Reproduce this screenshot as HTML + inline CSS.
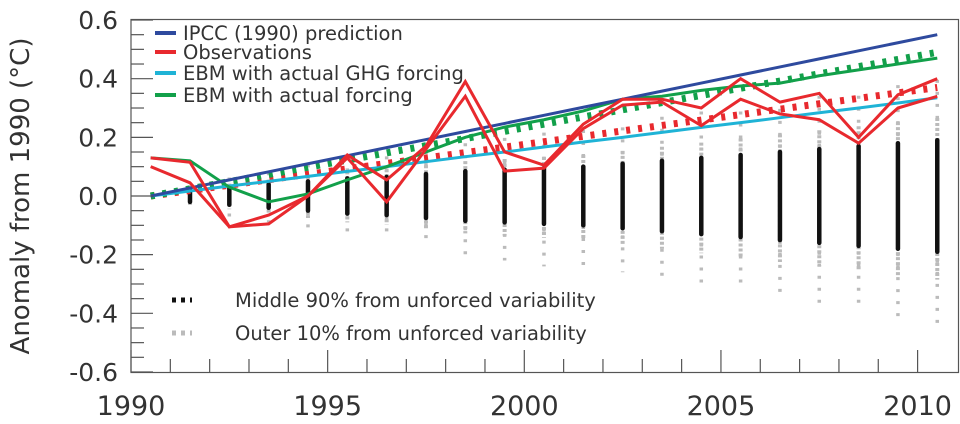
<!DOCTYPE html>
<html><head><meta charset="utf-8"><style>
body{margin:0;background:#fff;}
svg{display:block;font-family:"DejaVu Sans","Liberation Sans",sans-serif;}
</style></head><body>
<svg id="chart" width="960" height="424" viewBox="0 0 960 424" xmlns="http://www.w3.org/2000/svg">
<g id="marks"></g>
<rect x="131" y="19.5" width="827.5" height="353" fill="none" stroke="#555" stroke-width="1.2"/>
<g id="axes"></g>
<text transform="translate(29,196) rotate(-90)" text-anchor="middle" font-size="26" fill="#333">Anomaly from 1990 (°C)</text>
<g font-size="19.5" fill="#333">
 <line x1="155" y1="33" x2="176" y2="33" stroke="#2e4a9e" stroke-width="4"/>
 <text x="183" y="40">IPCC (1990) prediction</text>
 <line x1="155" y1="52" x2="176" y2="52" stroke="#e8292e" stroke-width="4"/>
 <text x="183" y="59">Observations</text>
 <line x1="155" y1="73" x2="176" y2="73" stroke="#1fb3d6" stroke-width="4"/>
 <text x="183" y="80">EBM with actual GHG forcing</text>
 <line x1="155" y1="95" x2="176" y2="95" stroke="#12a04a" stroke-width="4"/>
 <text x="183" y="102">EBM with actual forcing</text>
 <line x1="172" y1="300" x2="192" y2="300" stroke="#111" stroke-width="5" stroke-dasharray="4 5"/>
 <text x="235" y="307">Middle 90% from unforced variability</text>
 <line x1="172" y1="333" x2="192" y2="333" stroke="#bbb" stroke-width="5" stroke-dasharray="4 5"/>
 <text x="235" y="340">Outer 10% from unforced variability</text>
</g>
</svg>
<script>
const years=[1990.5,1991.5,1992.5,1993.5,1994.5,1995.5,1996.5,1997.5,1998.5,1999.5,2000.5,2001.5,2002.5,2003.5,2004.5,2005.5,2006.5,2007.5,2008.5,2009.5,2010.5];
const ipcc=[0,0.0275,0.055,0.0825,0.11,0.1375,0.165,0.1925,0.22,0.2475,0.275,0.3025,0.33,0.3575,0.385,0.4125,0.44,0.4675,0.495,0.5225,0.55];
const ebmGhg=[0,0.017,0.034,0.05,0.067,0.084,0.1,0.117,0.134,0.15,0.167,0.184,0.2,0.217,0.234,0.25,0.267,0.284,0.3,0.317,0.335];
const ebmActual=[0.13,0.12,0.03,-0.02,0.007,0.055,0.10,0.15,0.20,0.235,0.26,0.29,0.33,0.34,0.36,0.375,0.385,0.41,0.43,0.45,0.47];
const ebmActualTrend=[0,0.0245,0.049,0.0735,0.098,0.1225,0.147,0.1715,0.196,0.2205,0.245,0.2695,0.294,0.3185,0.343,0.3675,0.392,0.4165,0.441,0.4655,0.49];
const obsTrend=[0,0.0185,0.037,0.0555,0.074,0.0925,0.111,0.1295,0.148,0.1665,0.185,0.2035,0.222,0.2405,0.259,0.2775,0.296,0.3145,0.333,0.3515,0.37];
const obsA=[0.13,0.115,-0.105,-0.065,0.0,0.14,0.055,0.17,0.39,0.15,0.105,0.245,0.33,0.33,0.30,0.40,0.32,0.35,0.20,0.345,0.40];
const obsB=[0.10,0.045,-0.105,-0.095,0.0,0.13,-0.02,0.16,0.34,0.085,0.095,0.23,0.31,0.32,0.24,0.33,0.28,0.26,0.18,0.30,0.34];
const mid90=[0,0.02,0.03,0.04,0.05,0.06,0.065,0.075,0.085,0.09,0.095,0.10,0.11,0.12,0.13,0.14,0.15,0.16,0.17,0.18,0.19];
const outer=[0,0.04,0.07,0.09,0.12,0.15,0.15,0.17,0.2,0.22,0.24,0.25,0.26,0.3,0.32,0.32,0.33,0.38,0.38,0.42,0.44];
const yTicks=[0.6,0.4,0.2,0.0,-0.2,-0.4,-0.6];
const yTickLabels=["0.6","0.4","0.2","0.0","-0.2","-0.4","-0.6"];
const xTicks=[1990,1995,2000,2005,2010];
const xTickLabels=["1990","1995","2000","2005","2010"];

const NS="http://www.w3.org/2000/svg";
const X=v=>131+(v-1990)*39.33;
const Y=v=>196-v*293.3;
const marks=document.getElementById('marks'), axes=document.getElementById('axes');
function mk(tag,attrs,parent){const e=document.createElementNS(NS,tag);for(const k in attrs)e.setAttribute(k,attrs[k]);parent.appendChild(e);return e;}

years.forEach((yr,i)=>{
  if(i===0)return;
  const s=mk('line',{x1:X(yr),x2:X(yr),y1:Y(outer[i]*0.9),y2:Y(-outer[i]),stroke:'#bbb','stroke-width':3.5,'stroke-dasharray':'3 9'},marks);
  
  
  const g=mk('line',{x1:X(yr),x2:X(yr),y1:Y(mid90[i]*1.4),y2:Y(-mid90[i]*1.5),stroke:'#bbb','stroke-width':4,'stroke-dasharray':'3 2'},marks);
  
  
  const b=mk('line',{x1:X(yr),x2:X(yr),y1:Y(mid90[i]),y2:Y(-mid90[i]),stroke:'#111','stroke-width':4.5,'stroke-linecap':'round'},marks);
  
  
});
function line(vals,color,w,name,dash){
  const p=mk('polyline',{points:vals.map((v,i)=>X(years[i])+','+Y(v)).join(' '),fill:'none',stroke:color,'stroke-width':w,'stroke-linejoin':'miter'},marks);
  if(dash)p.setAttribute('stroke-dasharray',dash);
  
  
}
line(obsTrend,'#e8292e',7,'observations-trend','4 8');
line(ebmActualTrend,'#12a04a',7,'ebm-actual-trend','4 8');
line(ebmGhg,'#1fb3d6',3,'ebm-ghg-line');
line(ebmActual,'#12a04a',3,'ebm-actual-line');
line(ipcc,'#2e4a9e',3,'ipcc-line');
line(obsA,'#e8292e',3,'observations-a');
line(obsB,'#e8292e',3,'observations-b');

for(let k=-12;k<=12;k++){
  const v=k*0.05;
  const major=k%4===0;
  const t=mk('line',{x1:131,x2:131+(major?22:13),y1:Y(v),y2:Y(v),stroke:'#555','stroke-width':1.2},axes);
  
  
}
yTicks.forEach((v,i)=>{
  const t=mk('text',{x:118,y:Y(v)+9,'text-anchor':'end','font-size':25,fill:'#333'},axes);
  t.textContent=yTickLabels[i];
  
  
});
for(let yr=1990;yr<=2010;yr++){
  const major=yr%5===0;
  const t=mk('line',{x1:X(yr),x2:X(yr),y1:372,y2:372-(major?22:13),stroke:'#555','stroke-width':1.2},axes);
  
  
}
xTicks.forEach((v,i)=>{
  const t=mk('text',{x:X(v),y:415,'text-anchor':'middle','font-size':27,fill:'#333'},axes);
  t.textContent=xTickLabels[i];
  
  
});
</script>
</body></html>
